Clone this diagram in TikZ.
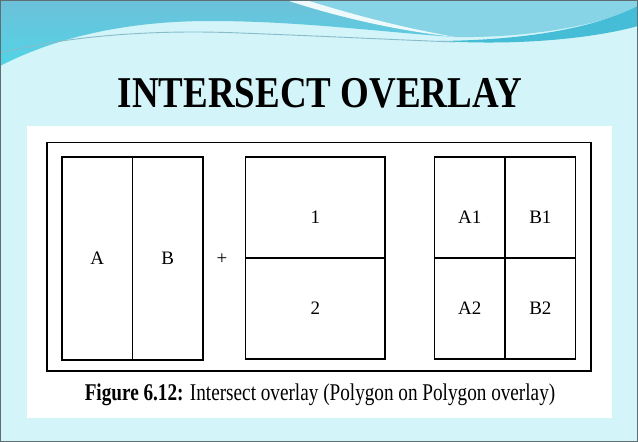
\documentclass[tikz,border=0pt]{standalone}
\usepackage{fontspec}
\setmainfont{Liberation Serif}
\usetikzlibrary{positioning, calc}
\definecolor{slidebg}{HTML}{D3F4F8}
\definecolor{wavemid}{HTML}{6CC1D9}
\definecolor{wavelow}{HTML}{52D3E6}
\definecolor{wavelight}{HTML}{86D4E6}
\definecolor{waveband}{HTML}{45BDD6}
\definecolor{waveline}{HTML}{86BCCB}
\definecolor{slideedge}{HTML}{5E6E74}

\begin{document}
\begin{tikzpicture}[x=1pt, y=-1pt,
  cell/.style={rectangle, draw, line width=1.1pt, inner sep=0pt, outer sep=0pt, font=\fontsize{19}{19}\selectfont},
  tallcell/.style={cell, minimum width=70.5pt, minimum height=203pt},
  widecell/.style={cell, minimum width=139.3pt, minimum height=101pt},
  quadcell/.style={cell, minimum width=70.7pt, minimum height=101pt},
  split/.style={line width=1.8pt},
  outerframe/.style={draw, line width=1.8pt},
  lbl/.style={font=\fontsize{19}{19}\selectfont}
]
    \useasboundingbox (0,0) rectangle (638,442);

    % Slide background
    \fill[slidebg] (0,0) rectangle (638,442);

    % Waves at the top
    \shade[top color=wavemid, bottom color=wavelow] (0,0) -- (300,0) .. controls (360,18) and (410,30) .. (455,37) .. controls (380,32) and (300,21) .. (210,21) .. controls (120,21) and (50,40) .. (0,66) -- cycle;
    \fill[wavelight] (300,0) -- (638,0) -- (638,8) .. controls (590,28) and (520,38) .. (455,37) .. controls (410,30) and (360,18) .. (300,0) -- cycle;
    \fill[white!85!wavelight] (286,0) -- (306,0) .. controls (360,17) and (410,29) .. (455,37) .. controls (400,31) and (340,18) .. (286,0) -- cycle;
    \fill[waveband] (638,6) .. controls (590,30) and (520,40) .. (440,41) .. controls (520,46) and (595,38) .. (638,26) -- cycle;
    \draw[waveline, line width=0.9pt] (0,53) .. controls (80,33) and (170,30) .. (240,33) .. controls (320,36) and (400,40) .. (455,42);

    % Title
    \node[font=\fontsize{44}{44}\selectfont\bfseries] (title) at (320,93) {\scalebox{0.84}[1]{INTERSECT OVERLAY}};

    % White panel with the figure
    \fill[white] (27,126) rectangle (611.5,417.5);
    \draw[outerframe] (46.7,142.5) rectangle (591,371);

    % Polygons A and B
    \node[tallcell, anchor=north west] (ca) at (62,157) {A};
    \node[tallcell, right=0pt of ca] (cb) {B};

    \node[lbl] (plus) at (222,259) {+};

    % Polygons 1 and 2
    \node[widecell, anchor=north west] (c1) at (245.7,157) {};
    \node[widecell, below=0pt of c1] (c2) {2};
    \node[lbl] (l1) at ($(c1)+(0,10)$) {1};
    \draw[split] (c1.south west) -- (c1.south east);

    % Result of the overlay
    \node[quadcell, anchor=north west] (ra1) at (434.3,157) {};
    \node[quadcell, right=0pt of ra1] (rb1) {};
    \node[quadcell, below=0pt of ra1] (ra2) {A2};
    \node[quadcell, below=0pt of rb1] (rb2) {B2};
    \node[lbl] (la1) at ($(ra1)+(0,10)$) {A1};
    \node[lbl] (lb1) at ($(rb1)+(0,10)$) {B1};
    \draw[split] (ra1.south west) -- (rb1.south east);

    % Caption
    \node[font=\fontsize{24}{24}\selectfont, anchor=base] (caption) at (320,400) {\scalebox{0.8}[1]{\textbf{Figure 6.12:} Intersect overlay (Polygon on Polygon overlay)}};

    % Slide edge
    \draw[slideedge, line width=1.2pt] (0.6,0.6) rectangle (637.4,441.4);
\end{tikzpicture}
\end{document}
